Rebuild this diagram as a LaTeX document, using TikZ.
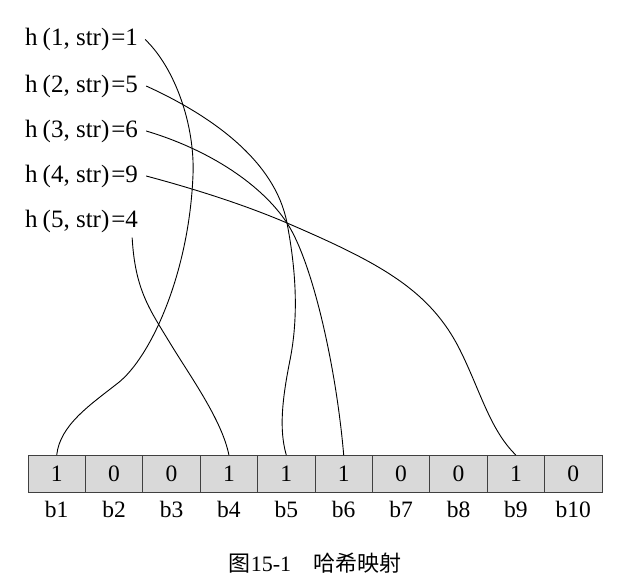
\documentclass[tikz,border=0pt]{standalone}
\usepackage{fontspec}
\setmainfont{Liberation Serif}
\newfontfamily\cjkfont{Noto Sans CJK SC}
\usetikzlibrary{positioning}

\begin{document}
\begin{tikzpicture}[x=1pt,y=-1pt,
    every node/.style={font=\fontsize{23.5}{27}\selectfont},
    hlab/.style={anchor=west, inner sep=0pt, font=\fontsize{25}{29}\selectfont},
    cellbox/.style={draw=black!75, fill=gray!30, line width=0.8pt,
      minimum width=57.4pt, minimum height=37.7pt, inner sep=0pt, outer sep=0pt},
    link/.style={line width=0.9pt}]

    \useasboundingbox (0,0) rectangle (629,588);

    % hash values
    \foreach \k/\v/\y in {1/1/39.5, 2/5/86, 3/6/131, 4/9/176, 5/4/221}
    \node[hlab] (h\k) at (25,\y) {h\hspace{5pt}(\k, str)\hspace{2pt}=\v};

    % bit array
    \foreach \i/\v in {1/1, 2/0, 3/0, 4/1, 5/1, 6/1, 7/0, 8/0, 9/1, 10/0}
    {
      \node[cellbox] (cell\i) at ({28+57.4*(\i-0.5)},473.9) {\v};
      \node (lab\i) at ({28+57.4*(\i-0.5)},509.5) {b\i};
    }

    \draw[link] ([xshift=7pt]h1.east) .. controls (175,68) and (195,125) .. (193,175)
      .. controls (189,275) and (150,358) .. (118,383)
      .. controls (90,405) and (60,425) .. (cell1.north);

    \draw[link] ([xshift=8pt]h2.east) .. controls (210,115) and (275,160) .. (287,223)
      .. controls (297,275) and (298,320) .. (290,360)
      .. controls (282,400) and (279,430) .. (cell5.north);

    \draw[link] ([xshift=8pt]h3.east) .. controls (210,150) and (262,185) .. (287,223)
      .. controls (312,261) and (336,365) .. (cell6.north);

    \draw[link] ([xshift=8pt]h4.east) .. controls (195,189) and (245,205) .. (287,223)
      .. controls (380,263) and (430,290) .. (460,350)
      .. controls (480,390) and (490,430) .. (cell9.north);

    \draw[link] ([xshift=-6pt,yshift=-5pt]h5.south east) .. controls (135,290) and (150,310) .. (170,343)
      .. controls (190,376) and (222,420) .. (cell4.north);

    \node[font=\fontsize{22}{26}\selectfont] (cap) at (315,563)
      {\cjkfont 图{\rmfamily 15-1}\quad 哈希映射};

\end{tikzpicture}
\end{document}
